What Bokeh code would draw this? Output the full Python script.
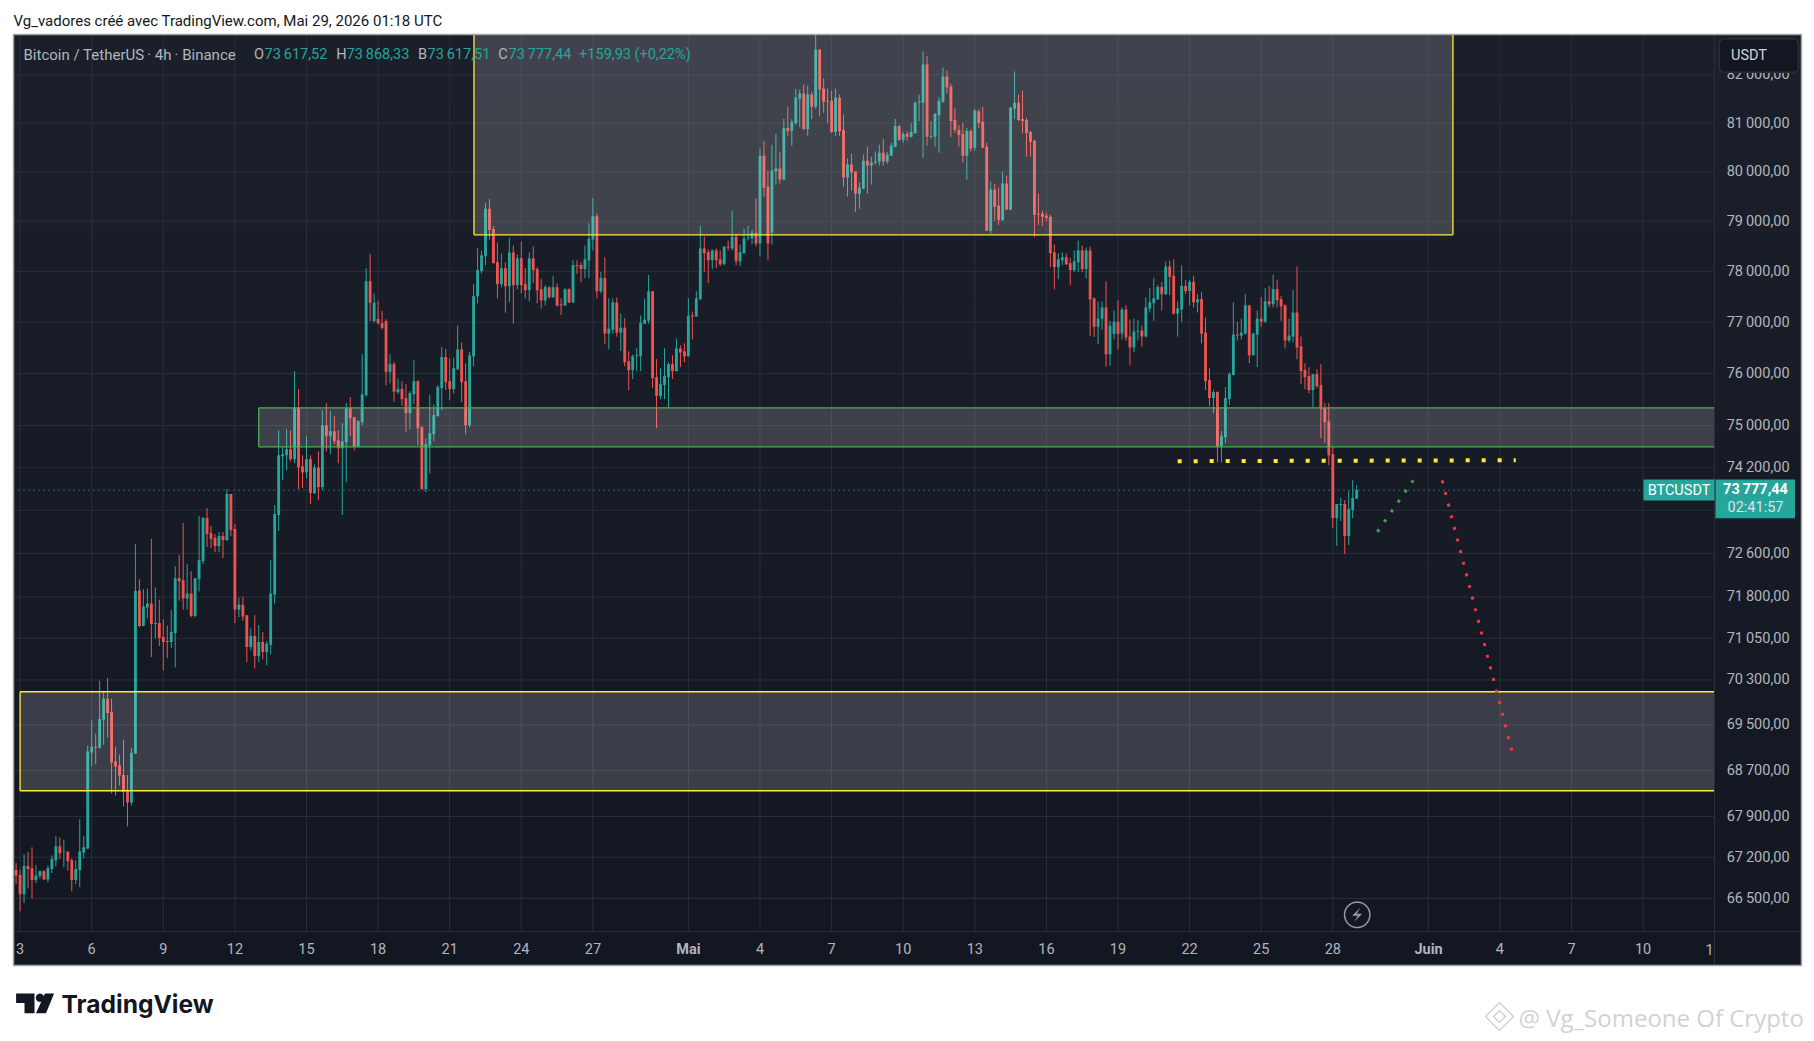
import math
from bokeh.plotting import figure
from bokeh.embed import file_html
from bokeh.resources import INLINE
from bokeh.models import (BoxAnnotation, ColumnDataSource, FixedTicker, Label, PolyAnnotation)

# 4h candles, first bar = 2 April 20:00
opens = [
66980,66900,66570,67050,67010,66810,66880,66960,66820,67000,
67150,67390,67290,67300,67150,66810,66980,67280,67350,69013,
69115,69100,69590,69963,69730,68856,68790,68620,68340,68140,
68995,71918,71270,71610,71680,71306,71324,71074,71000,70983,
71145,72142,72104,71770,71862,71454,72123,72458,73258,72979,
72886,72737,72923,72848,73704,73053,71570,71660,71466,70891,
71090,70727,70983,70800,70930,71845,73313,74416,74435,74549,
74359,75333,74225,74113,74359,73723,74206,73834,75006,74797,
74892,74720,74568,74683,75333,75160,74606,75064,75583,77806,
77020,77060,76980,77020,76032,76180,75640,75700,75526,75237,
75600,75852,74968,73797,74625,74835,75180,75718,76320,75852,
75700,76083,76468,75852,75006,76333,77506,78006,78300,79254,
78844,78182,77747,78065,77707,78377,77727,78260,77747,77627,
78260,78046,77646,77426,77686,77486,77686,77346,77326,77646,
77386,78123,78123,78046,78220,78630,79100,77606,77867,76776,
76853,77386,76795,76891,76237,76064,76333,76333,76968,77027,
77606,75930,75564,75776,75930,76180,76045,76487,76430,76333,
77127,77107,77454,78457,78379,78222,78418,78241,78143,78496,
78457,78693,78202,78359,78653,78653,78771,78555,80330,79700,
78771,80007,80067,79844,80899,80838,81000,81504,81609,80878,
81588,81336,82532,81713,81462,81462,80817,81525,80858,79884,
80148,80007,79558,79660,80229,80128,80189,80209,80392,80209,
80331,80513,80939,80655,80777,80716,80797,81420,81420,82217,
80716,80716,81168,81440,81965,81755,81063,80858,80777,80331,
80838,80493,81245,81020,80513,78810,79640,79313,79027,79762,
79231,81294,81420,81084,81063,80817,80635,79150,79150,79110,
79090,78379,78084,78222,78280,78163,78026,78183,78418,78045,
78418,77466,76908,77067,77287,76373,76770,77007,76776,77248,
76718,76506,76814,76833,76718,77269,77369,77450,77691,77550,
78095,77913,77168,77248,77711,77611,77792,77389,77450,76795,
75872,75526,75641,74606,74778,75506,75968,76756,76737,76776,
77329,76353,76756,77067,77007,77410,77349,77651,77450,77329,
76641,76718,77188,76526,76064,75949,75680,75987,75776,75333,
75083,74454,73257,73499,73518,72923,73406,73617.52]
closes = [
66890,66570,67050,67000,66810,66890,66960,66820,67010,67170,
67390,67270,67300,67130,66810,67000,67300,67370,69030,69117,
69100,69607,69963,69713,68840,68770,68610,68330,68140,69010,
71910,71270,71627,71680,71306,71324,71056,70983,70983,71163,
72142,72086,71770,71862,71454,72142,72476,73258,72960,72867,
72737,72923,72848,73704,73034,71570,71660,71442,70891,71090,
70727,70983,70800,70950,71862,73332,74435,74454,74549,74359,
75333,74206,74113,74359,73723,74206,73834,75006,74797,74892,
74702,74568,74702,75333,75140,74606,75083,75600,77806,77380,
77380,76980,76890,76032,76180,75650,75700,75506,75237,75622,
75852,74950,73797,74644,74855,75200,75737,76320,75833,75700,
76103,76468,75833,75006,76353,77510,78027,78319,79254,78825,
78163,77747,78065,77707,78377,77727,78260,77727,77627,78260,
78027,77627,77426,77686,77486,77686,77326,77326,77646,77386,
78123,78104,78046,78240,78650,79100,77606,77867,76776,76872,
77386,76795,76891,76218,76064,76333,76353,76987,77047,77606,
75910,75564,75795,75949,76180,76045,76487,76410,76333,77127,
77107,77466,78457,78359,78222,78418,78222,78143,78496,78477,
78693,78202,78379,78653,78673,78771,78555,80330,79680,78555,
80027,80067,79844,80899,80838,81020,81525,81609,80878,81588,
81336,82532,81692,81440,81440,80817,81525,80838,79884,80148,
79986,79558,79680,80229,80128,80189,80209,80392,80209,80351,
80534,80939,80655,80777,80716,80817,81420,81440,82217,80716,
80736,81188,81462,81965,81734,81042,80858,80757,80331,80838,
80473,81259,81000,80493,78810,79640,79293,79027,79762,79231,
81314,81420,81063,81042,80797,80615,79130,79130,79090,79068,
78359,78084,78241,78280,78143,78026,78202,78418,78045,78418,
77446,76908,77067,77287,76373,76927,77007,76770,77248,76699,
76506,76814,76833,76718,77289,77389,77470,77691,77550,78095,
77893,77168,77269,77711,77611,77792,77389,77450,76776,75853,
75526,75641,74606,74797,75526,75987,76756,76737,76795,77329,
76353,76776,77067,77007,77410,77349,77651,77430,77309,76641,
76737,77188,76506,76045,75930,75680,75987,75756,75314,75064,
74435,73257,73518,73518,72923,73425,73630,73777.44]
highs = [
67100,66990,67250,67290,67370,67060,66980,66980,67060,67230,
67560,67540,67500,67300,67180,67150,67850,67560,69135,69583,
69343,70283,70105,70336,69963,69117,68977,69240,68620,69100,
72770,72123,71943,71955,72867,71974,71750,71390,71280,71560,
72365,72570,73165,72402,72272,72142,73295,73276,73444,73109,
72960,72997,72997,73797,73704,73146,71788,71806,71466,71230,
71466,71290,71160,71000,72476,73500,74910,74587,74930,74911,
76045,75700,74435,74797,74435,74263,74511,75295,75430,75276,
75180,74911,75045,75430,75545,75160,75100,76374,78060,78350,
77560,77420,77220,77055,76374,76226,75903,75852,75795,75660,
76258,75870,74987,74760,75590,75410,75776,76520,76480,76290,
76308,76930,76600,76199,76423,77746,78460,78416,79370,79450,
78903,78572,78357,78182,78669,78513,78338,78590,78065,78377,
78500,78085,77846,77727,77706,77906,77766,77466,77666,77666,
78222,78222,78182,78513,78961,79468,79156,77987,78280,77466,
77466,77486,77166,77080,76430,76372,76487,77125,77466,77927,
77606,76276,76103,76487,76218,76353,76680,76545,76583,77466,
77207,77606,78908,78693,78437,78437,78457,78418,78496,78614,
79211,78745,78536,78850,78908,78830,79456,80473,80635,80027,
80554,80777,80412,81084,81336,81084,81706,81692,81797,81776,
81650,82840,82532,81923,81713,81671,81713,81588,81180,80270,
80371,80007,79782,80351,80513,80311,80412,80554,80675,80412,
80595,81084,80960,80817,80838,81000,81440,81588,82490,82385,
81042,81210,81532,82154,82091,81818,81315,80960,81000,80899,
80878,81287,81287,81336,80595,79800,79762,79680,80007,79925,
81336,82070,81588,81671,81105,80838,80650,79558,79211,79170,
79130,78536,78359,78379,78359,78261,78418,78614,78516,78477,
78496,77486,77406,77406,77806,77027,77225,77426,77289,77329,
77047,77067,77047,76930,77490,77671,77873,77731,77792,78197,
78218,78238,77410,78116,77832,77832,77913,77550,77590,77087,
76103,75680,75654,74892,75737,76026,77391,77007,77067,77550,
77329,76795,77228,77490,77671,77711,77933,77832,77510,77349,
77067,77631,78095,76718,76199,76122,75987,76083,76180,75430,
75430,74606,73518,73630,73592,73760,73964,73868.33]
lows = [
66740,66280,66420,66670,66500,66760,66830,66810,66770,66930,
67040,67170,67030,66970,66620,66740,66690,67180,67340,68770,
68805,69082,69150,69270,68300,68265,68440,68075,67730,68090,
68990,71250,71270,71413,70710,71040,70910,70470,70690,70873,
70525,71735,71570,71570,71430,71430,71900,72402,72718,72700,
72625,72625,72514,72830,72923,71324,71430,71365,70618,70830,
70506,70618,70670,70560,70760,71680,73016,73964,74150,74320,
74283,73797,73816,74000,73518,73704,73592,73778,74511,74454,
74644,74283,73313,73927,74797,74530,74587,75006,75550,77020,
76990,76950,76855,75775,75808,75455,75600,75378,74873,74930,
75410,74625,73790,73740,74095,74700,75170,75295,75680,75490,
75615,76064,75450,74835,74970,76141,77367,77960,78124,78630,
78157,77466,77686,77186,77386,76970,77646,77566,77466,77406,
77766,77367,77266,77326,77466,77480,77306,77140,77320,77373,
77380,77947,77787,77866,77866,78416,77466,77566,76564,76468,
76776,76718,76436,76141,75680,75890,76045,76045,76968,76968,
75718,74950,75506,75506,75346,75890,76040,76120,76218,76333,
76660,77107,77426,77987,77767,78045,78065,78104,78124,78418,
78418,78124,78104,78353,78614,78536,78496,78300,79497,78222,
78536,79741,79762,79823,80736,80534,80960,80919,80858,80736,
81084,81294,81147,81210,81000,80797,80736,80736,79700,79497,
79619,79190,79252,79653,79558,79741,80148,80128,80128,80168,
80324,80500,80635,80595,80635,80696,80777,81042,80290,80534,
80675,80513,80392,81420,81609,80716,80797,80513,80189,79844,
80412,80432,80899,80493,78810,78750,79007,78928,79007,79225,
79225,81084,81042,80797,80311,80311,78680,78928,78908,79007,
78084,77646,77846,78124,78124,77726,77987,77987,77987,77866,
76730,76710,76570,76848,76130,76150,76663,76465,76660,76641,
76160,76410,76641,76526,76699,77188,77027,77430,77228,77530,
77530,77148,76718,77007,77550,77329,77289,77188,76583,75680,
75372,75237,74300,74300,74663,75391,75968,76641,76660,76756,
76199,76353,76122,76910,76987,77289,77289,77289,77027,76487,
76603,76603,76276,75795,75699,75622,75346,75718,74759,74663,
74244,73070,72737,73202,72588,72755,73257,73617.52]
assert len(opens) == len(closes) == len(highs) == len(lows) == 338

price_ticks = [82000, 81000, 80000, 79000, 78000, 77000, 76000, 75000, 74200, 73400,
               72600, 71800, 71050, 70300, 69500, 68700, 67900, 67200, 66500]
day_offsets = [0, 3, 6, 9, 12, 15, 18, 21, 24, 28, 31, 34, 37, 40, 43, 46, 49, 52, 55, 59, 62, 65, 68]
day_labels = ["3", "6", "9", "12", "15", "18", "21", "24", "27", "", "4", "7", "10", "13", "16",
              "19", "22", "25", "28", "", "4", "7", "10"]
bars_per_day = 6
first_day_bar = 1
axis_bar = 427
last_price = closes[-1]

# drawings (bar index, price)
top_zone = (115.1, 361.2, 78730, 82845)
mid_zone = (61.0, axis_bar, 74596, 75340)
low_zone = (1.0, axis_bar, 68346, 70089)
yellow_dots = ([292.0, 377.0], [74323, 74342])
green_dots = ([342.2, 351.2], [73000, 73960])
red_dots = ([358.5, 376.0], [73960, 69047])

W, H = 1806, 1033
FL, FT, FR, FB = 13, 34, 1801, 965   # chart box on the page
GRID = "#2a2e39"
LBL = "#b2b5be"
UP, DOWN = "#26a69a", "#ef5350"
CHART_LEFT_BAR, CHART_RIGHT_BAR = -0.654, 448.8
CHART_TOP_PRICE, CHART_BOTTOM_PRICE, TIME_AXIS_PRICE = 82845, 65375, 65941

p = figure(width=W, height=H, output_backend="svg", toolbar_location=None,
           y_axis_type="log", y_axis_location="right",
           x_range=(-3.922, 450.08), y_range=(64253, 83565),
           min_border_left=0, min_border_right=0, min_border_top=0, min_border_bottom=0,
           border_fill_color="#ffffff", background_fill_color="#ffffff",
           outline_line_color=None)
p.grid.visible = False


def sx(px):
    return px


def sy(py):
    return H - py


# vertical background gradient
N = 14
c0, c1 = (27, 31, 42), (19, 23, 34)
for i in range(N):
    t = i / (N - 1)
    col = "#%02x%02x%02x" % tuple(round(a + (b - a) * t) for a, b in zip(c0, c1))
    y0 = FT + (FB - FT) * i / N
    y1 = min(FB, FT + (FB - FT) * (i + 1) / N + 1)
    p.add_layout(BoxAnnotation(left=sx(FL), right=sx(FR), top=sy(y0), bottom=sy(y1),
                               left_units="screen", right_units="screen", top_units="screen",
                               bottom_units="screen", fill_color=col, fill_alpha=1, line_alpha=0,
                               level="image"))

# axes
xticks = [first_day_bar + bars_per_day * d for d in day_offsets]
xax = p.xaxis[0]
xax.ticker = FixedTicker(ticks=xticks)
xax.major_label_overrides = dict(zip(xticks, day_labels))
xax.fixed_location = TIME_AXIS_PRICE
xax.bounds = (CHART_LEFT_BAR, CHART_RIGHT_BAR)
yax = p.yaxis[0]
yax.ticker = FixedTicker(ticks=price_ticks)
yax.major_label_overrides = {
    v: ("" if v == 73400 else f"{v // 1000}\u2009{v % 1000:03d},00") for v in price_ticks}
yax.fixed_location = axis_bar
yax.bounds = (CHART_BOTTOM_PRICE, CHART_TOP_PRICE)
for ax in (xax, yax):
    ax.major_tick_line_color = None
    ax.minor_tick_line_color = None
    ax.axis_line_color = GRID
    ax.major_label_text_color = LBL
    ax.major_label_text_font = "Roboto"
    ax.major_label_text_font_size = "14.5px"
xax.major_label_standoff = 5
yax.major_label_standoff = 6
xax.major_label_orientation = "horizontal"

# grid lines stop at the axes
p.segment(x0=xticks, x1=xticks, y0=[TIME_AXIS_PRICE] * len(xticks), y1=[CHART_TOP_PRICE] * len(xticks),
          line_color=GRID, line_width=1)
p.segment(x0=[CHART_LEFT_BAR] * len(price_ticks), x1=[axis_bar] * len(price_ticks), y0=price_ticks,
          y1=price_ticks, line_color=GRID, line_width=1)

# candles
idx = list(range(len(opens)))
cols = [UP if c >= o else DOWN for o, c in zip(opens, closes)]
src = ColumnDataSource(dict(x=idx, o=opens, c=closes, h=highs, l=lows, col=cols))
p.segment(x0="x", x1="x", y0="l", y1="h", color="col", line_width=1, source=src)
p.vbar(x="x", width=0.72, top="o", bottom="c", fill_color="col", line_color=None, source=src)


def zone(z, color, open_right=True):
    x0, x1, y0, y1 = z
    p.quad(left=x0, right=x1, bottom=y0, top=y1, fill_color="#ffffff", fill_alpha=0.165, line_color=None)
    p.segment(x0=[x0], x1=[x1], y0=[y0], y1=[y0], line_color=color, line_width=1.3)
    p.segment(x0=[x0], x1=[x0], y0=[y0], y1=[y1], line_color=color, line_width=1.3)
    if open_right:
        p.segment(x0=[x0], x1=[x1], y0=[y1], y1=[y1], line_color=color, line_width=1.3)
    else:
        p.segment(x0=[x1], x1=[x1], y0=[y0], y1=[y1], line_color=color, line_width=1.3)


zone(top_zone, "#ffeb3b", open_right=False)
zone(mid_zone, "#4caf50")
zone(low_zone, "#ffeb3b")

p.line(*yellow_dots, line_color="#ffeb3b", line_width=4, line_dash="4 12")
p.line(*green_dots, line_color="#43a047", line_width=3, line_dash="3 9")
p.line(*red_dots, line_color="#f23645", line_width=3, line_dash="3 9")
p.line([CHART_LEFT_BAR, axis_bar], [last_price, last_price], line_color=UP, line_width=1.3, line_dash="1 4")


def box(l, r, t, b, fill, line=None, radius=None, lw=1):
    kw = dict(left=sx(l), right=sx(r), top=sy(t), bottom=sy(b), left_units="screen", right_units="screen",
              top_units="screen", bottom_units="screen", fill_color=fill or "#000000", fill_alpha=1 if fill else 0,
              level="overlay")
    if line:
        kw.update(line_color=line, line_width=lw, line_alpha=1)
    else:
        kw.update(line_alpha=0)
    if radius:
        kw["border_radius"] = radius
    p.add_layout(BoxAnnotation(**kw))


def txt(px, py, text, color=LBL, size="14.5px", font="Roboto", align="left", style="normal"):
    p.add_layout(Label(x=sx(px), y=sy(py), x_units="screen", y_units="screen", text=text,
                       text_color=color, text_font=font, text_font_size=size, text_align=align,
                       text_baseline="middle", text_font_style=style, level="overlay"))


def poly(pts, fill=None, line=None, lw=1):
    kw = dict(xs=[sx(a) for a, _ in pts], ys=[sy(b) for _, b in pts], xs_units="screen", ys_units="screen",
              level="overlay")
    kw.update(fill_color=fill or "#000000", fill_alpha=1 if fill else 0)
    kw.update(line_color=line or "#000000", line_width=lw, line_alpha=1 if line else 0)
    p.add_layout(PolyAnnotation(**kw))


# chart outline
box(FL, FR, FT, FB, None, "#a3a6ae", lw=1.5)

# price tags
box(1643, 1714, 479, 500, UP)
box(1715, 1794.5, 479, 517.7, UP)
txt(1678.5, 490, "BTCUSDT", "#ffffff", align="center")
txt(1755, 489, "73\u2009777,44", "#ffffff", align="center", style="bold")
txt(1755, 506.5, "02:41:57", "#dfe3e6", align="center")

# currency button
box(1718.7, 1798, 38.3, 71.7, "#131722", GRID, radius=5, lw=1.5)
txt(1730.5, 55, "USDT", "#d1d4dc")

# bold month labels and the cut-off tick label
txt(688, 948.5, "Mai", LBL, align="center", style="bold")
txt(1428, 948.5, "Juin", LBL, align="center", style="bold")
txt(1709, 948.5, "1", LBL, align="center")

# headers
txt(13, 20, "Vg_vadores créé avec TradingView.com, Mai 29, 2026 01:18 UTC", "#131722", size="15px")
txt(23, 54, "Bitcoin / TetherUS\u2009· 4h\u2009· Binance", LBL, size="15px")
for lx, letter, vx, val in [(253.6, "O", 264, "73\u2009617,52"), (335.7, "H", 346, "73\u2009868,33"),
                            (417.4, "B", 427, "73\u2009617,51"), (497.8, "C", 508, "73\u2009777,44")]:
    txt(lx, 54, letter, LBL)
    txt(vx, 54, val, UP)
txt(578.6, 54, "+159,93 (+0,22%)", UP)

# lightning badge
cx, cy, r = 1356.7, 914.3, 12.7
poly([(cx + r * math.cos(a * math.pi / 24), cy + r * math.sin(a * math.pi / 24)) for a in range(48)],
     None, "#9598a1", 1.5)
poly([(cx + 3, cy - 7), (cx - 5, cy + 1), (cx + 0.5, cy + 1), (cx - 3, cy + 7),
      (cx + 5, cy - 1), (cx - 0.5, cy - 1)], "#9598a1", None)

# TradingView logo
INK = "#131722"
poly([(15.6, 993), (34, 993), (34, 1012.7), (24, 1012.7), (24, 1002.5), (15.6, 1002.5)], INK)
cx2, cy2, r2 = 39.5, 997.3, 4.2
poly([(cx2 + r2 * math.cos(a * math.pi / 12), cy2 + r2 * math.sin(a * math.pi / 12)) for a in range(24)], INK)
poly([(44.5, 993), (53.6, 993), (45.5, 1012.7), (35.5, 1012.7)], INK)
txt(61, 1003, "TradingView", INK, size="24.6px", font="Inter", style="bold")

# watermark
WM = "#cfd2d6"
mx, my = 1499, 1016
poly([(mx, my - 14), (mx + 14, my), (mx, my + 14), (mx - 14, my)], None, WM, 1.5)
poly([(mx, my - 6), (mx + 6, my), (mx, my + 6), (mx - 6, my)], None, WM, 1.5)
txt(1518, 1017, "@ Vg_Someone Of Crypto", WM, size="24px", font="Open Sans")

open("out.html", "w").write(file_html(p, INLINE))
